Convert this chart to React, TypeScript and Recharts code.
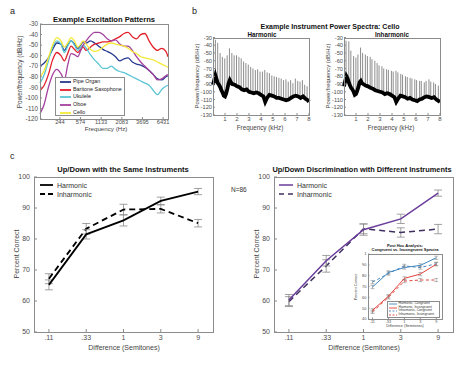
import React from 'react';
import { LineChart, Line, XAxis, YAxis, ErrorBar } from 'recharts';

const FONT = '"Liberation Sans", Arial, Helvetica, sans-serif';
const FRAME = '#8c8c8c';
const TICK = '#4d4d4d';

// ---------------- Panel a: excitation patterns ----------------
const excitationHzTicks = [244, 574, 1133, 2083, 3695, 6431];
const excitationErb = [2, 3, 4, 5, 6, 7, 7.8, 8.6, 9.4, 10.2, 11, 11.7, 12.3, 13, 14, 15, 16, 17, 18, 19, 20, 21, 22, 23, 24, 25, 26, 27, 28, 29, 30, 31, 32, 32.5];
const pipeOrgan = [-70, -67, -62, -54, -48, -49, -55, -50, -46, -49, -53, -50, -47, -48, -46, -48, -51, -54, -56, -58, -61, -65, -63, -62, -66, -68, -69, -71, -74, -78, -82, -83, -80, -79];
const baritoneSax = [-93, -88, -78, -64, -57, -60, -65, -58, -51, -54, -57, -54, -52, -55, -52, -49, -48, -47, -47, -46, -44, -42, -39, -38, -42, -44, -40, -39, -46, -52, -55, -53, -56, -61];
const ukulele = [-86, -78, -65, -52, -46, -49, -57, -51, -46, -50, -55, -52, -50, -53, -59, -64, -68, -72, -72, -70, -73, -75, -76, -78, -80, -82, -84, -86, -88, -93, -97, -92, -89, -88];
const oboe = [-115, -106, -90, -78, -73, -77, -83, -69, -58, -59, -61, -55, -50, -46, -41, -38, -38, -40, -44, -46, -45, -49, -51, -51, -55, -61, -66, -70, -74, -78, -83, -82, -79, -78];
const cello = [-80, -74, -62, -50, -43, -46, -52, -48, -43, -46, -52, -49, -46, -49, -54, -56, -55, -52, -49, -48, -49, -50, -51, -53, -56, -58, -61, -62, -63, -64, -66, -68, -70, -71];
const excitationNames = ['Pipe Organ', 'Baritone Saxophone', 'Ukulele', 'Oboe', 'Cello'];
const excitationColors = ['#27388f', '#e3202a', '#5cc6d4', '#a4409d', '#f3e938'];
const excitationDbTicks = [-120, -110, -100, -90, -80, -70, -60, -50, -40, -30];

// ---------------- Panel b: power spectra ----------------
const kHzTicks = [1, 2, 3, 4, 5, 6, 7, 8];
const spectrumDbTicks = [-130, -120, -110, -100, -90, -80, -70, -60, -50, -40, -30];
const floorKHz = [0, 0.1, 0.2, 0.3, 0.4, 0.5, 0.6, 0.7, 0.8, 0.9, 1.0, 1.1, 1.2, 1.3, 1.4, 1.5, 1.6, 1.8, 2.0, 2.2, 2.4, 2.6, 2.8, 3.0, 3.2, 3.4, 3.6, 3.8, 4.0, 4.2, 4.35, 4.5, 4.7, 4.9, 5.1, 5.3, 5.5, 5.7, 5.9, 6.1, 6.3, 6.5, 6.7, 6.9, 7.1, 7.3, 7.5, 7.7, 7.9, 8.0];
const harmonicFloor = [-91, -85, -79, -84, -89, -91, -94, -98, -101, -105, -106, -102, -96, -89, -85, -88, -90, -91, -93, -94, -97, -98, -97, -100, -101, -102, -101, -102, -104, -106, -113, -108, -104, -105, -106, -108, -108, -109, -110, -111, -110, -108, -106, -105, -106, -108, -106, -109, -111, -113];
const inharmonicFloor = [-93, -86, -80, -83, -88, -92, -95, -97, -100, -104, -103, -99, -94, -88, -86, -89, -90, -92, -93, -95, -96, -98, -99, -100, -101, -103, -102, -103, -105, -107, -113, -109, -105, -106, -107, -109, -108, -110, -111, -112, -110, -109, -107, -106, -107, -108, -107, -110, -112, -113];
const harmonicPeakKHz = [0.20, 0.39, 0.59, 0.78, 0.98, 1.18, 1.37, 1.57, 1.76, 1.96, 2.16, 2.35, 2.55, 2.74, 2.94, 3.14, 3.33, 3.53, 3.72, 3.92, 4.12, 4.31, 4.51, 4.70, 4.90, 5.10, 5.29, 5.49, 5.68, 5.88, 6.08, 6.27, 6.47, 6.66, 6.86, 7.06, 7.25, 7.45, 7.64, 7.84];
const harmonicPeakDb = [-33, -37, -50, -55, -57, -53, -44, -50, -53, -53, -55, -57, -61, -63, -65, -68, -70, -72, -71, -74, -74, -72, -75, -76, -79, -80, -81, -82, -83, -85, -84, -87, -85, -89, -83, -86, -87, -85, -91, -93];
const inharmonicPeakKHz = [0.17, 0.40, 0.57, 0.80, 0.99, 1.16, 1.38, 1.55, 1.78, 1.95, 2.18, 2.33, 2.57, 2.76, 2.92, 3.16, 3.31, 3.55, 3.70, 3.95, 4.10, 4.33, 4.49, 4.73, 4.88, 5.12, 5.27, 5.51, 5.66, 5.90, 6.05, 6.30, 6.44, 6.69, 6.84, 7.08, 7.23, 7.47, 7.62, 7.86];
const inharmonicPeakDb = [-34, -35, -47, -54, -56, -52, -43, -50, -52, -54, -55, -58, -60, -63, -66, -67, -70, -71, -72, -73, -74, -73, -75, -77, -78, -80, -81, -82, -83, -84, -85, -86, -86, -88, -86, -84, -87, -88, -90, -92];

// ---------------- Panel c: discrimination ----------------
const semitoneLabels = ['.11', '.33', '1', '3', '9'];
const semitoneIdx = [1, 2, 3, 4, 5];
const percentTicks = [50, 60, 70, 80, 90, 100];
const sameHarmonic = [65.2, 81.5, 86.0, 92.3, 95.3];
const sameHarmonicErr = [1.6, 1.5, 1.8, 1.2, 1.0];
const sameInharmonic = [67.2, 83.3, 89.5, 89.7, 85.1];
const sameInharmonicErr = [1.6, 1.7, 1.7, 1.3, 1.2];
const diffHarmonic = [60.3, 73.0, 83.0, 86.5, 94.8];
const diffHarmonicErr = [1.8, 1.7, 1.8, 1.5, 1.0];
const diffInharmonic = [59.8, 71.3, 83.3, 82.1, 83.2];
const diffInharmonicErr = [1.6, 2.0, 1.6, 1.5, 1.5];

// inset
const insetTicks = [40, 50, 60, 70, 80, 90, 100];
const insetTickLabels = ['40', '50', '60', '70', '80', '90', '1'];
const harmCongruent = [69.5, 83.0, 87.5, 89.5, 96.5];
const harmIncongruent = [48.0, 61.0, 77.5, 81.5, 90.5];
const inharmCongruent = [74.0, 82.0, 89.0, 87.5, 91.0];
const inharmIncongruent = [46.5, 60.0, 75.0, 76.0, 76.0];
const insetErr = [1.5, 1.5, 1.5, 1.5, 1.5];
const insetNames = ['Harmonic, Congruent', 'Harmonic, Incongruent', 'Inharmonic, Congruent', 'Inharmonic, Incongruent'];

// ---------------- helpers ----------------
const erb = (hz: number) => 21.4 * Math.log10(1 + 0.00437 * hz);
const tickStyle = (size: number) => ({ fontSize: size, fill: TICK, fontFamily: FONT });

type TxtProps = { x: number; y: number; size?: number; bold?: boolean; anchor?: 'start' | 'middle' | 'end'; rotate?: boolean; color?: string; children: React.ReactNode };
function Txt({ x, y, size = 7, bold = false, anchor = 'middle', rotate = false, color = '#333', children }: TxtProps) {
  const tx = anchor === 'start' ? '0%' : anchor === 'end' ? '-100%' : '-50%';
  return (
    <div style={{ position: 'absolute', left: x, top: y, transform: `translate(${tx},-50%)${rotate ? ' rotate(-90deg)' : ''}`, fontFamily: FONT, fontSize: size, fontWeight: bold ? 'bold' : 'normal', color, whiteSpace: 'nowrap', lineHeight: 1 }}>
      {children}
    </div>
  );
}

function Frame({ x, y, w, h, bg }: { x: number; y: number; w: number; h: number; bg?: string }) {
  return <div style={{ position: 'absolute', left: x, top: y, width: w + 1, height: h + 1, border: `1px solid ${FRAME}`, boxSizing: 'border-box', background: bg }} />;
}

function Sample({ x, y, w, color, dash, width = 1.6 }: { x: number; y: number; w: number; color: string; dash?: string; width?: number }) {
  return (
    <svg style={{ position: 'absolute', left: x, top: y - 3 }} width={w} height={6}>
      <line x1={0} y1={3} x2={w} y2={3} stroke={color} strokeWidth={width} strokeDasharray={dash} />
    </svg>
  );
}

function buildSpikes(freqs: number[], peaks: number[], floorDb: number[]) {
  const pts: { x: number; y: number | null }[] = [];
  freqs.forEach((f, i) => {
    let k = 0;
    let best = Infinity;
    floorKHz.forEach((g, j) => {
      const d = Math.abs(g - f);
      if (d < best) { best = d; k = j; }
    });
    pts.push({ x: f, y: floorDb[k] }, { x: f, y: peaks[i] }, { x: f, y: null });
  });
  return pts;
}

function Spectrum({ left, freqs, peaks, floorDb }: { left: number; freqs: number[]; peaks: number[]; floorDb: number[] }) {
  const spikes = buildSpikes(freqs, peaks, floorDb);
  const floor = floorKHz.map((x, i) => ({ x, y: floorDb[i] }));
  return (
    <div style={{ position: 'absolute', left, top: 30 }}>
      <LineChart width={125} height={105} margin={{ top: 7.5, right: 6, left: 0, bottom: 0 }}>
        <XAxis dataKey="x" type="number" domain={[0, 8]} ticks={kHzTicks} interval={0} height={20} tick={tickStyle(6)} tickSize={-2} tickMargin={4} tickLine={{ stroke: FRAME }} axisLine={false} />
        <YAxis type="number" domain={[-130, -30]} ticks={spectrumDbTicks} interval={0} width={23} tick={tickStyle(5.7)} tickSize={-2} tickMargin={3} tickLine={{ stroke: FRAME }} axisLine={false} />
        <Line data={spikes} dataKey="y" stroke="#808080" strokeWidth={0.9} dot={false} isAnimationActive={false} />
        <Line data={floor} dataKey="y" stroke="#000" strokeWidth={3.8} dot={false} isAnimationActive={false} />
      </LineChart>
    </div>
  );
}

function Discrim({ left, harm, harmErr, inh, inhErr, harmColor, inhColor, width }: { left: number; harm: number[]; harmErr: number[]; inh: number[]; inhErr: number[]; harmColor: string; inhColor: string; width: number }) {
  const data = semitoneIdx.map((x, i) => ({ x, h: harm[i], he: harmErr[i], n: inh[i], ne: inhErr[i] }));
  return (
    <div style={{ position: 'absolute', left, top: 160 }}>
      <LineChart width={230} height={195} data={data} margin={{ top: 17, right: 17, left: 0, bottom: 0 }}>
        <XAxis dataKey="x" type="number" domain={[0.6, 5.4]} ticks={semitoneIdx} interval={0} tickFormatter={(v: number) => semitoneLabels[v - 1]} height={23} tick={tickStyle(7)} tickSize={-3} tickMargin={6} tickLine={{ stroke: FRAME }} axisLine={false} />
        <YAxis type="number" domain={[50, 100]} ticks={percentTicks} interval={0} width={34} tick={tickStyle(7)} tickSize={-3} tickMargin={7} tickLine={{ stroke: FRAME }} axisLine={false} />
        <Line dataKey="n" stroke={inhColor} strokeWidth={width} strokeDasharray="6 4" dot={false} isAnimationActive={false}>
          <ErrorBar dataKey="ne" width={4} stroke="#8a8a8a" strokeWidth={0.8} direction="y" />
        </Line>
        <Line dataKey="h" stroke={harmColor} strokeWidth={width} dot={false} isAnimationActive={false}>
          <ErrorBar dataKey="he" width={4} stroke="#8a8a8a" strokeWidth={0.8} direction="y" />
        </Line>
      </LineChart>
    </div>
  );
}

const INSET_BLUE = '#3f86c0';
const INSET_RED = '#e2423b';

function Inset() {
  const data = semitoneIdx.map((x, i) => ({ x, hc: harmCongruent[i], hi: harmIncongruent[i], ic: inharmCongruent[i], ii: inharmIncongruent[i], e: insetErr[i] }));
  return (
    <div style={{ position: 'absolute', left: 350, top: 240 }}>
      <LineChart width={95} height={90} data={data} margin={{ top: 14, right: 3, left: 0, bottom: 0 }}>
        <XAxis dataKey="x" type="number" domain={[0.72, 5.36]} ticks={semitoneIdx} interval={0} tickFormatter={(v: number) => semitoneLabels[v - 1]} height={11} tick={tickStyle(3.8)} tickSize={-1.5} tickMargin={2.5} tickLine={{ stroke: FRAME }} axisLine={false} />
        <YAxis type="number" domain={[40, 100]} ticks={insetTicks} interval={0} tickFormatter={(v: number) => insetTickLabels[insetTicks.indexOf(v)]} width={18} tick={tickStyle(4)} tickSize={-1.5} tickMargin={3} tickLine={{ stroke: FRAME }} axisLine={false} />
        <Line dataKey="ii" stroke={INSET_RED} strokeWidth={1} strokeDasharray="3 2.5" dot={false} isAnimationActive={false}>
          <ErrorBar dataKey="e" width={2} stroke="#777" strokeWidth={0.5} direction="y" />
        </Line>
        <Line dataKey="ic" stroke={INSET_BLUE} strokeWidth={1} strokeDasharray="3 2.5" dot={false} isAnimationActive={false}>
          <ErrorBar dataKey="e" width={2} stroke="#777" strokeWidth={0.5} direction="y" />
        </Line>
        <Line dataKey="hi" stroke={INSET_RED} strokeWidth={1} dot={false} isAnimationActive={false}>
          <ErrorBar dataKey="e" width={2} stroke="#777" strokeWidth={0.5} direction="y" />
        </Line>
        <Line dataKey="hc" stroke={INSET_BLUE} strokeWidth={1} dot={false} isAnimationActive={false}>
          <ErrorBar dataKey="e" width={2} stroke="#777" strokeWidth={0.5} direction="y" />
        </Line>
      </LineChart>
    </div>
  );
}

export default function App() {
  const excitationSeries = [pipeOrgan, baritoneSax, ukulele, oboe, cello];
  const excitationData = excitationErb.map((x, i) => {
    const row: Record<string, number> = { x };
    excitationSeries.forEach((s, k) => { row['s' + k] = s[i]; });
    return row;
  });
  const erbTicks = excitationHzTicks.map(erb);
  const insetStyles = [
    { c: INSET_BLUE, d: undefined },
    { c: INSET_RED, d: undefined },
    { c: INSET_BLUE, d: '2 1.5' },
    { c: INSET_RED, d: '2 1.5' },
  ];
  return (
    <div style={{ position: 'absolute', left: 0, top: 0, width: 474, height: 365, background: '#fff', overflow: 'hidden', fontFamily: FONT }}>
      {/* ---------- a ---------- */}
      <Txt x={10} y={11} size={9} anchor="start" color="#222">a</Txt>
      <Txt x={104} y={19.5} size={7.6} bold color="#111">Example Excitation Patterns</Txt>
      <div style={{ position: 'absolute', left: 0, top: 0 }}>
        <LineChart width={180} height={140} data={excitationData} margin={{ top: 24, right: 12, left: 0, bottom: 0 }}>
          <XAxis dataKey="x" type="number" domain={[2, 32.5]} ticks={erbTicks} interval={0} tickFormatter={(v: number) => String(excitationHzTicks[erbTicks.indexOf(v)])} height={21} tick={tickStyle(5.7)} tickSize={-2} tickMargin={3} tickLine={{ stroke: FRAME }} axisLine={false} />
          <YAxis type="number" domain={[-120, -30]} ticks={excitationDbTicks} interval={0} width={40} tick={tickStyle(6.3)} tickSize={-2} tickMargin={4} tickLine={{ stroke: FRAME }} axisLine={false} />
          {excitationSeries.map((_, k) => (
            <Line key={k} dataKey={'s' + k} type="monotone" stroke={excitationColors[k]} strokeWidth={1.3} dot={false} isAnimationActive={false} />
          ))}
        </LineChart>
      </div>
      <Frame x={40} y={24} w={128} h={95} />
      <Txt x={20} y={71.5} size={6.5} rotate color="#444">Power/frequency (dB/Hz)</Txt>
      <Txt x={106} y={129} size={6.2} color="#444">Frequency (Hz)</Txt>
      <div style={{ position: 'absolute', left: 55, top: 77, width: 70, height: 39, border: `1px solid ${FRAME}`, boxSizing: 'border-box', background: '#fff' }} />
      {excitationNames.map((n, k) => (
        <React.Fragment key={n}>
          <Sample x={60} y={82 + k * 7.7} w={11} color={excitationColors[k]} width={1.8} />
          <Txt x={73} y={82 + k * 7.7} size={5.4} anchor="start" color="#222">{n}</Txt>
        </React.Fragment>
      ))}

      {/* ---------- b ---------- */}
      <Txt x={192} y={11} size={9} anchor="start" color="#222">b</Txt>
      <Txt x={330} y={26} size={7} bold color="#111">Example Instrument Power Spectra: Cello</Txt>
      <Txt x={262} y={34.5} size={6.3} bold color="#111">Harmonic</Txt>
      <Txt x={392} y={34.5} size={6.3} bold color="#111">Inharmonic</Txt>
      <Spectrum left={190} freqs={harmonicPeakKHz} peaks={harmonicPeakDb} floorDb={harmonicFloor} />
      <Spectrum left={321} freqs={inharmonicPeakKHz} peaks={inharmonicPeakDb} floorDb={inharmonicFloor} />
      <Frame x={213} y={37.5} w={96} h={77.5} />
      <Frame x={344} y={37.5} w={96} h={77.5} />
      <Txt x={197.5} y={76} size={5.8} rotate color="#444">Power/frequency (dB/Hz)</Txt>
      <Txt x={328.5} y={76} size={5.8} rotate color="#444">Power/frequency (dB/Hz)</Txt>
      <Txt x={260} y={127.5} size={6.3} color="#444">Frequency (kHz)</Txt>
      <Txt x={391} y={127.5} size={6.3} color="#444">Frequency (kHz)</Txt>

      {/* ---------- c ---------- */}
      <Txt x={10} y={156} size={9} anchor="start" color="#222">c</Txt>
      <Txt x={123} y={170} size={7.6} bold color="#111">Up/Down with the Same Instruments</Txt>
      <Txt x={362} y={170} size={7.4} bold color="#111">Up/Down Discrimination with Different Instruments</Txt>
      <Discrim left={0} harm={sameHarmonic} harmErr={sameHarmonicErr} inh={sameInharmonic} inhErr={sameInharmonicErr} harmColor="#000" inhColor="#000" width={1.8} />
      <Discrim left={240} harm={diffHarmonic} harmErr={diffHarmonicErr} inh={diffInharmonic} inhErr={diffInharmonicErr} harmColor="#6a3d9a" inhColor="#40305f" width={1.5} />
      <Frame x={34} y={177} w={179} h={155} />
      <Frame x={274} y={177} w={179} h={155} />
      <Txt x={16} y={254} size={7} rotate color="#444">Percent Correct</Txt>
      <Txt x={256} y={254} size={7} rotate color="#444">Percent Correct</Txt>
      <Txt x={124} y={347} size={7} color="#444">Difference (Semitones)</Txt>
      <Txt x={364} y={347} size={7} color="#444">Difference (Semitones)</Txt>
      <Sample x={40} y={184.5} w={13} color="#000" width={1.8} />
      <Txt x={57} y={184.5} size={7} anchor="start" color="#333">Harmonic</Txt>
      <Sample x={40} y={193.5} w={14} color="#000" dash="5 3" width={1.8} />
      <Txt x={57} y={193.5} size={7} anchor="start" color="#333">Inharmonic</Txt>
      <Sample x={279} y={184.5} w={14} color="#6a3d9a" width={1.5} />
      <Txt x={297} y={184.5} size={7} anchor="start" color="#333">Harmonic</Txt>
      <Sample x={279} y={193.5} w={15} color="#40305f" dash="5 4" width={1.5} />
      <Txt x={297} y={193.5} size={7} anchor="start" color="#333">Inharmonic</Txt>
      <Txt x={231} y={190} size={6.5} anchor="start" color="#333">N=86</Txt>

      {/* inset */}
      <Frame x={368} y={254} w={74} h={65} bg="#fff" />
      <Inset />
      <Frame x={368} y={254} w={74} h={65} />
      <Txt x={405} y={245.5} size={4} bold color="#111">Post Hoc Analysis:</Txt>
      <Txt x={405} y={249.8} size={4} bold color="#111">Congruent vs. Incongruent Spectra</Txt>
      <Txt x={357} y={287} size={3.8} rotate color="#444">Percent Correct</Txt>
      <Txt x={405} y={327} size={3.7} color="#444">Difference (Semitones)</Txt>
      <div style={{ position: 'absolute', left: 387, top: 301, width: 53, height: 16.5, border: `0.6px solid ${FRAME}`, boxSizing: 'border-box', background: '#fff' }} />
      {insetNames.map((n, k) => (
        <React.Fragment key={n}>
          <Sample x={389} y={304 + k * 3.6} w={8} color={insetStyles[k].c} dash={insetStyles[k].d} width={0.9} />
          <Txt x={398.5} y={304 + k * 3.6} size={3.3} anchor="start" color="#333">{n}</Txt>
        </React.Fragment>
      ))}
    </div>
  );
}
